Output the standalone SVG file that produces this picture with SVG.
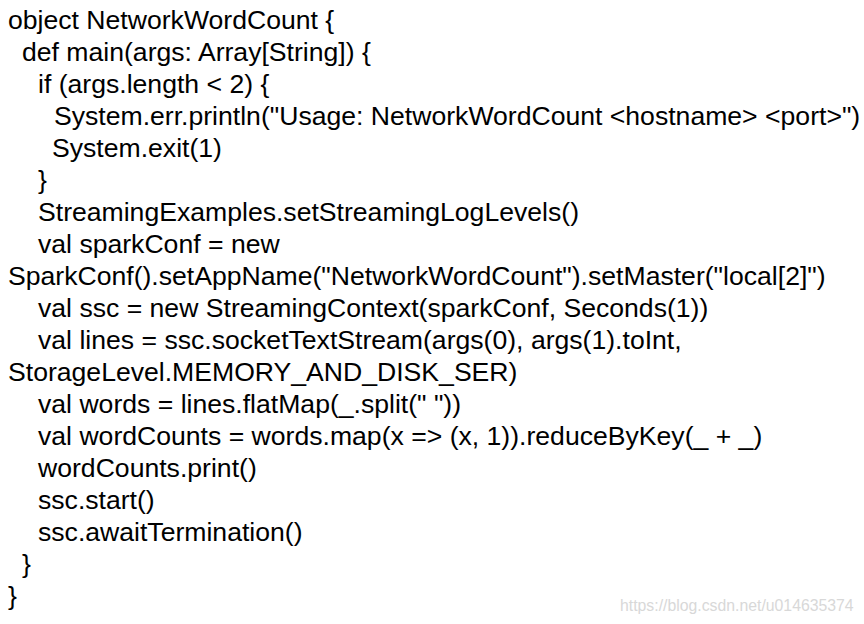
<svg xmlns="http://www.w3.org/2000/svg" width="864" height="624" viewBox="0 0 864 624">
<style>text{font-family:"Liberation Sans",Arial,sans-serif;font-size:26.6px;fill:#000}.w{font-size:15.8px;fill:#d8d8d8}</style>
<rect width="864" height="624" fill="#fff"/>
<text x="8" y="29">object NetworkWordCount {</text>
<text x="22" y="61">def main(args: Array[String]) {</text>
<text x="38" y="93">if (args.length &lt; 2) {</text>
<text x="54" y="125">System.err.println("Usage: NetworkWordCount &lt;hostname&gt; &lt;port&gt;")</text>
<text x="52" y="157">System.exit(1)</text>
<text x="38" y="189">}</text>
<text x="38" y="221">StreamingExamples.setStreamingLogLevels()</text>
<text x="38" y="253">val sparkConf = new</text>
<text x="8" y="285">SparkConf().setAppName("NetworkWordCount").setMaster("local[2]")</text>
<text x="38" y="317">val ssc = new StreamingContext(sparkConf, Seconds(1))</text>
<text x="38" y="349">val lines = ssc.socketTextStream(args(0), args(1).toInt,</text>
<text x="8" y="381">StorageLevel.MEMORY_AND_DISK_SER)</text>
<text x="38" y="413">val words = lines.flatMap(_.split(" "))</text>
<text x="38" y="445">val wordCounts = words.map(x =&gt; (x, 1)).reduceByKey(_ + _)</text>
<text x="38" y="477">wordCounts.print()</text>
<text x="38" y="509">ssc.start()</text>
<text x="38" y="541">ssc.awaitTermination()</text>
<text x="22" y="573">}</text>
<text x="8" y="605">}</text>
<text class="w" x="620" y="611">https://blog.csdn.net/u014635374</text>
</svg>
